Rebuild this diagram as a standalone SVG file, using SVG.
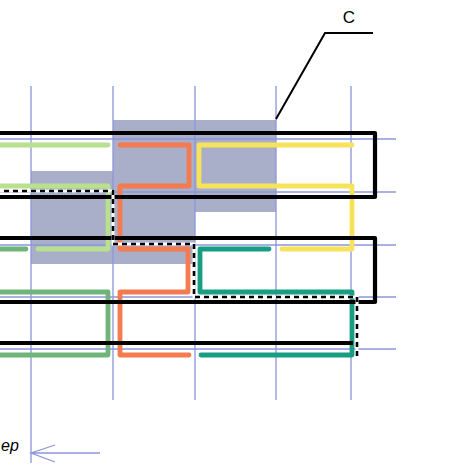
<svg xmlns="http://www.w3.org/2000/svg" width="474" height="474" viewBox="0 0 474 474">
<defs>
<style>
.grid{stroke:#8c96dc;stroke-width:1.3;fill:none}
.band{fill:none;stroke:#000;stroke-width:4.2;stroke-linejoin:round}
.wire{fill:none;stroke-width:4.8;stroke-linecap:round;stroke-linejoin:round}
.lg{stroke:#b8e08e}.mg{stroke:#6fb57a}.or{stroke:#f47b4f}.ye{stroke:#f7e35a}.te{stroke:#179e82}
.dashbg{fill:none;stroke:#fff;stroke-width:3}
.dash{fill:none;stroke:#000;stroke-width:2.6;stroke-dasharray:5 4}
.lbl{font-family:"Liberation Sans",Arial,sans-serif;fill:#000}
</style>
</defs>
<rect width="474" height="474" fill="#fff"/>
<g id="shade">
<polygon points="31,171 113,171 113,120 276,120 276,212 195,212 195,264 31,264" fill="#a9aec9"/>
</g>
<g id="grid">
<path class="grid" d="M0,139H396M0,192H396M0,245H396M0,297H396M0,349H396"/>
<path class="grid" d="M31,86V463M113,86V400M195,86V400M276,86V400M351,86V400"/>
</g>
<g id="wires">
<path class="wire lg" d="M-5,145H108"/>
<path class="wire lg" d="M-5,186H108V249H38"/>
<path class="wire mg" d="M-5,249H26"/>
<path class="wire mg" d="M-5,292H108V355H-5"/>
<path class="wire or" d="M120,145H189V186H120V249H188V292H120V355H189"/>
<path class="wire ye" d="M352,145H199V186H352V249H282"/>
<path class="wire te" d="M269,249H200V292H352V355H201"/>
</g>
<g id="bands">
<path class="band" d="M-10,133H375V197H-10"/>
<path class="band" d="M-10,238H375V302H-10"/>
<path class="band" d="M-10,343H353"/>
</g>
<g id="connectors">
<path class="dashbg" d="M-5,191H113V244H194V297H357V357"/>
<path class="dash" d="M-5,191H113V244H194V297H357V357"/>
<path d="M276,119L325,33H373" fill="none" stroke="#000" stroke-width="2"/>
<path class="grid" d="M31,453H100M55,445L31,453L55,462"/>
</g>
<g id="label-c"><text class="lbl" x="349" y="23" font-size="17" text-anchor="middle">C</text></g>
<g id="label-step"><text class="lbl" x="1" y="451" font-size="16" font-style="italic">ep</text></g>
</svg>
